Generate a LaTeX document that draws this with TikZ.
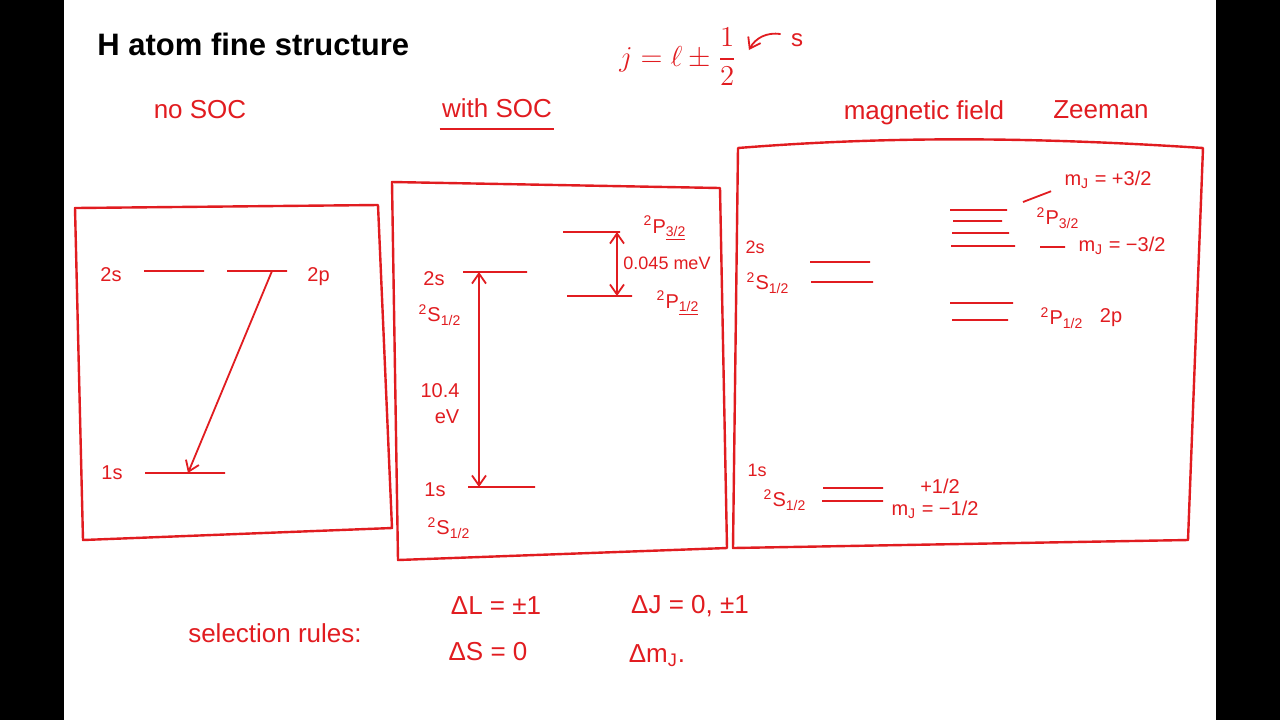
\documentclass[tikz,border=0pt]{standalone}
\usepackage{fontspec}
\setmainfont{Liberation Sans}
\usepackage{amsmath}
\usetikzlibrary{
  arrows.meta,
  positioning,
  calc
}
\definecolor{hw}{RGB}{225,28,32}
\newcommand{\termsym}[3]{\textsuperscript{#1}#2\textsubscript{#3}}
\newcommand{\mj}{m\textsubscript{J}}
\tikzset{
  hand/.style={
    text=hw, inner sep=1pt,
    font=\fontsize{10}{12}\selectfont
  },
  handbig/.style={hand, font=\fontsize{13}{15}\selectfont},
  handsmall/.style={hand, font=\fontsize{9}{11}\selectfont},
  level/.style={
    draw=hw, line width=1pt,
    inner sep=0pt, outer sep=0pt, minimum height=0pt
  },
  boxline/.style={draw=hw, line width=1.2pt, line join=round},
  hwarrow/.style={-{Straight Barb[length=5pt,width=7pt]}, draw=hw, line width=0.9pt},
  hwdouble/.style={{Straight Barb[length=5pt,width=7pt]}-{Straight Barb[length=5pt,width=7pt]},
    draw=hw, line width=0.9pt},
  tick/.style={draw=hw, line width=0.9pt}
}

\begin{document}
\begin{tikzpicture}[x=0.5pt, y=-0.5pt]

\useasboundingbox (0,0) rectangle (1280,720);
\fill[white] (0,0) rectangle (1280,720);
\fill[black] (0,0) rectangle (64,720);
\fill[black] (1216,0) rectangle (1280,720);

% Title and j formula
\node[anchor=base west, inner sep=0pt, font=\fontsize{15.5}{18}\selectfont\bfseries]
  (title) at (97,55) {H atom fine structure};
\node[hand, font=\fontsize{14.5}{17}\selectfont] (jform) at (678,57)
  {$\displaystyle j = \ell \pm \frac{1}{2}$};
\node[hand, font=\fontsize{12}{14}\selectfont] (spin) at (797,40) {s};
\draw[hwarrow] ([shift={(-4pt,3pt)}]spin.west) to[bend right=35] ([shift={(5pt,3.5pt)}]jform.east);

% Column headings
\node[handbig] (nosoc) at (200,110) {no SOC};
\node[handbig] (withsoc) at (497,108) {with SOC};
\draw[tick] ([yshift=-4.5pt]withsoc.south west) -- ([yshift=-4.5pt]withsoc.south east);
\node[handbig] (magfield) at (924,113) {magnetic field};
\node[handbig] (zeeman) at (1101,110) {Zeeman};

% Frames
\draw[boxline] (75,208) -- (378,205) -- (392,528) -- (83,540) -- cycle;
\draw[boxline] (392,182) -- (720,188) -- (727,548) -- (398,560) -- cycle;
\draw[boxline] (738,148) .. controls (900,135) and (1050,138) .. (1203,148)
  -- (1188,540) -- (733,548) -- cycle;

% Box 1: no SOC
\node[level, minimum width=30pt] (lvA2s) at (174,271) {};
\node[level, minimum width=30pt] (lvA2p) at (257,271) {};
\node[level, minimum width=40pt] (lvA1s) at (185,473) {};
\node[hand, left=10pt of lvA2s, yshift=-2pt] (labA2s) {2s};
\node[hand, right=9pt of lvA2p, yshift=-3pt] (labA2p) {2p};
\node[hand, left=10pt of lvA1s] (labA1s) {1s};
\draw[hwarrow] ([xshift=7.5pt]lvA2p.center) -- ([xshift=1.5pt]lvA1s.center);

% Box 2: with SOC
\node[level, minimum width=32pt] (lvB2s) at (495,272) {};
\node[level, minimum width=33.5pt] (lvB1s) at (501.5,487) {};
\node[level, minimum width=28.5pt] (lvBp32) at (591.5,232) {};
\node[level, minimum width=32.5pt] (lvBp12) at (599.5,296) {};
\coordinate (eTop) at ([xshift=8pt]lvB2s.west);
\draw[hwdouble] (eTop) -- (eTop |- lvB1s.center);
\coordinate (fTop) at ([xshift=-1.5pt]lvBp32.east);
\draw[hwdouble] (fTop) -- (fTop |- lvBp12.center);
\node[hand, left=8pt of lvB2s, yshift=-3.5pt] (labB2s) {2s};
\node[hand] (termB2s) at (440,315) {\termsym{2}{S}{1/2}};
\node[hand] (labEa) at (440,391) {10.4};
\node[hand] (labEb) at (447,417) {eV};
\node[hand, left=10pt of lvB1s, yshift=-1.5pt] (labB1s) {1s};
\node[hand] (termB1s) at (449,528) {\termsym{2}{S}{1/2}};
\node[hand] (termBp32) at (665,228) {\termsym{2}{P}{\underline{3/2}}};
\node[handsmall] (finesplit) at (667,263) {0.045 meV};
\node[hand] (termBp12) at (678,303) {\termsym{2}{P}{\underline{1/2}}};

% Box 3: magnetic field, Zeeman
\node[level, minimum width=30pt] (lvC2sa) at (840,262) {};
\node[level, minimum width=31pt] (lvC2sb) at (842,282) {};
\node[level, minimum width=28.5pt] (lvCp3a) at (978.5,210) {};
\node[level, minimum width=24.5pt] (lvCp3b) at (977.5,221) {};
\node[level, minimum width=28.5pt] (lvCp3c) at (980.5,233) {};
\node[level, minimum width=32pt] (lvCp3d) at (983,246) {};
\node[level, minimum width=12.5pt] (lvCm32) at (1052.5,247) {};
\node[level, minimum width=31.5pt] (lvCp1a) at (981.5,303) {};
\node[level, minimum width=28pt] (lvCp1b) at (980,320) {};
\node[level, minimum width=30pt] (lvC1sa) at (853,488) {};
\node[level, minimum width=30.5pt] (lvC1sb) at (852.5,501) {};
\node[handsmall] (labC2s) at (755,247) {2s};
\node[hand] (termC2s) at (768,283) {\termsym{2}{S}{1/2}};
\node[hand] (mJp32) at (1108,180) {\mj{} = +3/2};
\node[hand] (termCp32) at (1058,218) {\termsym{2}{P}{3/2}};
\node[hand] (mJm32) at (1122,246) {\mj{} = −3/2};
\node[hand] (termCp12) at (1062,318) {\termsym{2}{P}{1/2}};
\node[hand] (labC2p) at (1111,318) {2p};
\node[handsmall] (labC1s) at (757,470) {1s};
\node[hand] (termC1s) at (785,500) {\termsym{2}{S}{1/2}};
\node[hand] (mJp12) at (940,486) {+1/2};
\node[hand] (mJm12) at (935,510) {\mj{} = −1/2};
\draw[tick] ([xshift=-5.5pt]mJp32.south west) -- ([shift={(8pt,4pt)}]lvCp3a.east);

% Selection rules
\node[handbig] (selrules) at (275,633) {selection rules:};
\node[handbig] (ruleL) at (496,606) {ΔL = ±1};
\node[handbig] (ruleS) at (488,652) {ΔS = 0};
\node[handbig] (ruleJ) at (690,606) {ΔJ = 0, ±1};
\node[handbig] (rulemJ) at (657,656) {Δ\mj.};

\end{tikzpicture}
\end{document}
